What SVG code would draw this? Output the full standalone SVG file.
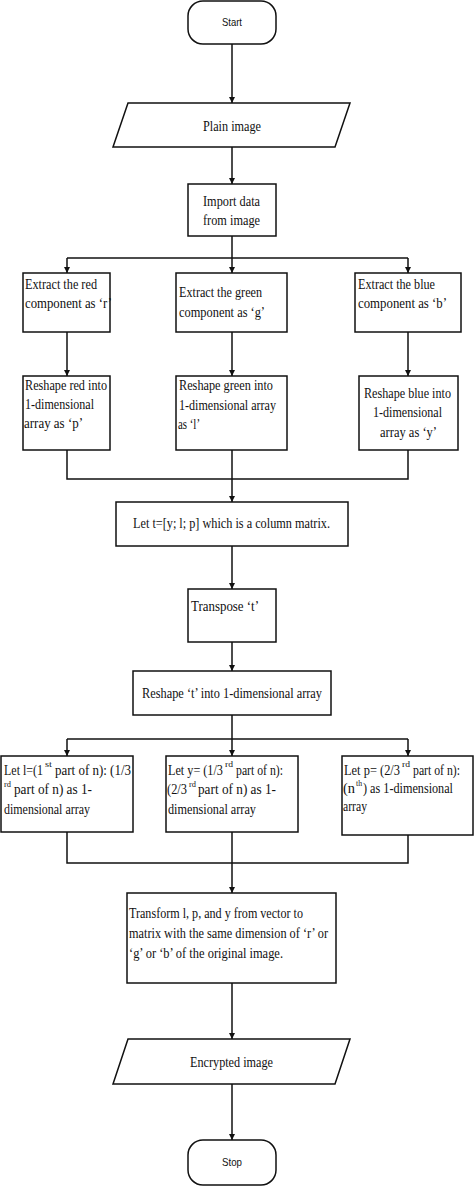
<svg xmlns="http://www.w3.org/2000/svg" width="474" height="1186" viewBox="0 0 474 1186">
<style>
.box{fill:#fff;stroke:#111;stroke-width:1.5}
.t{font-family:"Liberation Serif","Times New Roman",serif;font-size:15px;fill:#111}
.s{font-family:"Liberation Sans",Arial,sans-serif;font-size:11px;fill:#111}
.sup{font-family:"Liberation Serif","Times New Roman",serif;font-size:9px;fill:#111}
.c{fill:none;stroke:#111;stroke-width:1.5}
</style>
<defs>
<marker id="ah" viewBox="0 0 10 10" refX="10" refY="5" markerWidth="6" markerHeight="7" markerUnits="userSpaceOnUse" orient="auto">
<path d="M0,0 L10,5 L0,10 z" fill="#111"/>
</marker>
</defs>
<rect width="474" height="1186" fill="#fff"/>
<g id="connectors">
<line class="c" x1="232" y1="44" x2="232" y2="103" marker-end="url(#ah)"/>
<line class="c" x1="232" y1="147" x2="232" y2="184" marker-end="url(#ah)"/>
<line class="c" x1="232" y1="236" x2="232" y2="258"/>
<line class="c" x1="67" y1="258" x2="408" y2="258"/>
<line class="c" x1="67" y1="258" x2="67" y2="273" marker-end="url(#ah)"/>
<line class="c" x1="232" y1="258" x2="232" y2="273" marker-end="url(#ah)"/>
<line class="c" x1="408" y1="258" x2="408" y2="273" marker-end="url(#ah)"/>
<line class="c" x1="67" y1="332" x2="67" y2="376" marker-end="url(#ah)"/>
<line class="c" x1="232" y1="332" x2="232" y2="376" marker-end="url(#ah)"/>
<line class="c" x1="408" y1="332" x2="408" y2="376" marker-end="url(#ah)"/>
<polyline class="c" points="67,450 67,479 408,479 408,450"/>
<line class="c" x1="232" y1="450" x2="232" y2="502" marker-end="url(#ah)"/>
<line class="c" x1="232" y1="546" x2="232" y2="589" marker-end="url(#ah)"/>
<line class="c" x1="232" y1="642" x2="232" y2="671" marker-end="url(#ah)"/>
<line class="c" x1="232" y1="715" x2="232" y2="739"/>
<line class="c" x1="67" y1="739" x2="408" y2="739"/>
<line class="c" x1="67" y1="739" x2="67" y2="756" marker-end="url(#ah)"/>
<line class="c" x1="232" y1="739" x2="232" y2="756" marker-end="url(#ah)"/>
<line class="c" x1="408" y1="739" x2="408" y2="756" marker-end="url(#ah)"/>
<polyline class="c" points="67,832 67,863 408,863 408,835"/>
<line class="c" x1="232" y1="832" x2="232" y2="893" marker-end="url(#ah)"/>
<line class="c" x1="232" y1="983" x2="232" y2="1039" marker-end="url(#ah)"/>
<line class="c" x1="232" y1="1084" x2="232" y2="1140" marker-end="url(#ah)"/>
</g>
<g id="start">
<rect class="box" x="188" y="1" width="88" height="43" rx="15"/>
<text class="s" x="222" y="26" textLength="20" lengthAdjust="spacingAndGlyphs">Start</text>
</g>
<g id="plain-image">
<polygon class="box" points="128,103 350,103 335,147 113,147"/>
<text class="t" x="203" y="131" textLength="58" lengthAdjust="spacingAndGlyphs">Plain image</text>
</g>
<g id="import-data">
<rect class="box" x="188" y="184" width="88" height="52"/>
<text class="t" x="203" y="206" textLength="57" lengthAdjust="spacingAndGlyphs">Import data</text>
<text class="t" x="203" y="225" textLength="57" lengthAdjust="spacingAndGlyphs">from image</text>
</g>
<g id="extract-red">
<rect class="box" x="23" y="273" width="87" height="59"/>
<text class="t" x="25" y="289" textLength="72" lengthAdjust="spacingAndGlyphs">Extract the red</text>
<text class="t" x="25" y="308" textLength="87" lengthAdjust="spacingAndGlyphs">component as ‘r’</text>
</g>
<g id="extract-green">
<rect class="box" x="176" y="273" width="111" height="59"/>
<text class="t" x="179" y="297" textLength="83" lengthAdjust="spacingAndGlyphs">Extract the green</text>
<text class="t" x="179" y="317" textLength="86" lengthAdjust="spacingAndGlyphs">component  as ‘g’</text>
</g>
<g id="extract-blue">
<rect class="box" x="355" y="273" width="106" height="59"/>
<text class="t" x="358" y="289" textLength="77" lengthAdjust="spacingAndGlyphs">Extract the blue</text>
<text class="t" x="358" y="308" textLength="89" lengthAdjust="spacingAndGlyphs">component as ‘b’</text>
</g>
<g id="reshape-red">
<rect class="box" x="23" y="376" width="87" height="74"/>
<text class="t" x="25" y="390" textLength="82" lengthAdjust="spacingAndGlyphs">Reshape red into</text>
<text class="t" x="25" y="409" textLength="69" lengthAdjust="spacingAndGlyphs">1-dimensional</text>
<text class="t" x="24" y="428" textLength="59" lengthAdjust="spacingAndGlyphs">array as ‘p’</text>
</g>
<g id="reshape-green">
<rect class="box" x="176" y="376" width="111" height="74"/>
<text class="t" x="179" y="390" textLength="94" lengthAdjust="spacingAndGlyphs">Reshape green into</text>
<text class="t" x="179" y="410" textLength="97" lengthAdjust="spacingAndGlyphs">1-dimensional array</text>
<text class="t" x="178" y="429" textLength="22" lengthAdjust="spacingAndGlyphs">as ‘l’</text>
</g>
<g id="reshape-blue">
<rect class="box" x="359" y="376" width="99" height="74"/>
<text class="t" x="364" y="398" textLength="87" lengthAdjust="spacingAndGlyphs">Reshape blue into</text>
<text class="t" x="373" y="417" textLength="69" lengthAdjust="spacingAndGlyphs">1-dimensional</text>
<text class="t" x="380" y="437" textLength="57" lengthAdjust="spacingAndGlyphs">array as ‘y’</text>
</g>
<g id="let-t">
<rect class="box" x="116" y="502" width="232" height="44"/>
<text class="t" x="133" y="528" textLength="197" lengthAdjust="spacingAndGlyphs">Let t=[y; l; p] which is a column matrix.</text>
</g>
<g id="transpose">
<rect class="box" x="188" y="589" width="88" height="53"/>
<text class="t" x="191" y="611" textLength="68" lengthAdjust="spacingAndGlyphs">Transpose ‘t’</text>
</g>
<g id="reshape-t">
<rect class="box" x="133" y="671" width="198" height="44"/>
<text class="t" x="142" y="698" textLength="180" lengthAdjust="spacingAndGlyphs">Reshape ‘t’ into 1-dimensional array</text>
</g>
<g id="let-l">
<rect class="box" x="1" y="756" width="132" height="76"/>
<text class="t" transform="translate(4,775) scale(0.8,1)" x="0" y="0" textLength="48.75" lengthAdjust="spacingAndGlyphs">Let l=(1</text>
<text class="sup" x="45" y="767" textLength="7" lengthAdjust="spacingAndGlyphs">st</text>
<text class="t" x="55" y="775" textLength="76" lengthAdjust="spacingAndGlyphs">part of n): (1/3</text>
<text class="sup" x="4" y="787" textLength="7" lengthAdjust="spacingAndGlyphs">rd</text>
<text class="t" x="14" y="794" textLength="78" lengthAdjust="spacingAndGlyphs">part of n) as 1-</text>
<text class="t" x="4" y="814" textLength="86" lengthAdjust="spacingAndGlyphs">dimensional array</text>
</g>
<g id="let-y">
<rect class="box" x="166" y="756" width="132" height="76"/>
<text class="t" transform="translate(168,775) scale(0.82,1)" x="0" y="0" textLength="67" lengthAdjust="spacingAndGlyphs">Let y= (1/3</text>
<text class="sup" x="225" y="767" textLength="8" lengthAdjust="spacingAndGlyphs">rd</text>
<text class="t" x="236" y="775" textLength="47" lengthAdjust="spacingAndGlyphs">part of n):</text>
<text class="t" transform="translate(167,794) scale(0.82,1)" x="0" y="0" textLength="24.4" lengthAdjust="spacingAndGlyphs">(2/3</text>
<text class="sup" x="189" y="787" textLength="7" lengthAdjust="spacingAndGlyphs">rd</text>
<text class="t" x="198" y="794" textLength="78" lengthAdjust="spacingAndGlyphs">part of n)  as 1-</text>
<text class="t" x="168" y="814" textLength="88" lengthAdjust="spacingAndGlyphs">dimensional array</text>
</g>
<g id="let-p">
<rect class="box" x="342" y="756" width="131" height="79"/>
<text class="t" transform="translate(344,775) scale(0.82,1)" x="0" y="0" textLength="68.3" lengthAdjust="spacingAndGlyphs">Let p= (2/3</text>
<text class="sup" x="402" y="767" textLength="8" lengthAdjust="spacingAndGlyphs">rd</text>
<text class="t" x="413" y="775" textLength="47" lengthAdjust="spacingAndGlyphs" style="font-size:14px">part of n):</text>
<text class="t" x="343" y="793" textLength="12" lengthAdjust="spacingAndGlyphs">(n</text>
<text class="sup" x="356" y="786" textLength="6" lengthAdjust="spacingAndGlyphs">th</text>
<text class="t" x="363" y="793" textLength="90" lengthAdjust="spacingAndGlyphs">)  as 1-dimensional</text>
<text class="t" x="343" y="811" textLength="24" lengthAdjust="spacingAndGlyphs">array</text>
</g>
<g id="transform">
<rect class="box" x="127" y="893" width="209" height="90"/>
<text class="t" x="129" y="918" textLength="174" lengthAdjust="spacingAndGlyphs">Transform l, p, and y from vector to</text>
<text class="t" x="129" y="938" textLength="199" lengthAdjust="spacingAndGlyphs">matrix with the same dimension of ‘r’ or</text>
<text class="t" x="129" y="958" textLength="154" lengthAdjust="spacingAndGlyphs">‘g’ or ‘b’ of the original image.</text>
</g>
<g id="encrypted-image">
<polygon class="box" points="128,1039 350,1039 335,1084 113,1084"/>
<text class="t" x="190" y="1067" textLength="83" lengthAdjust="spacingAndGlyphs">Encrypted image</text>
</g>
<g id="stop">
<rect class="box" x="188" y="1140" width="88" height="45" rx="15"/>
<text class="s" x="222" y="1166" textLength="20" lengthAdjust="spacingAndGlyphs">Stop</text>
</g>
</svg>
